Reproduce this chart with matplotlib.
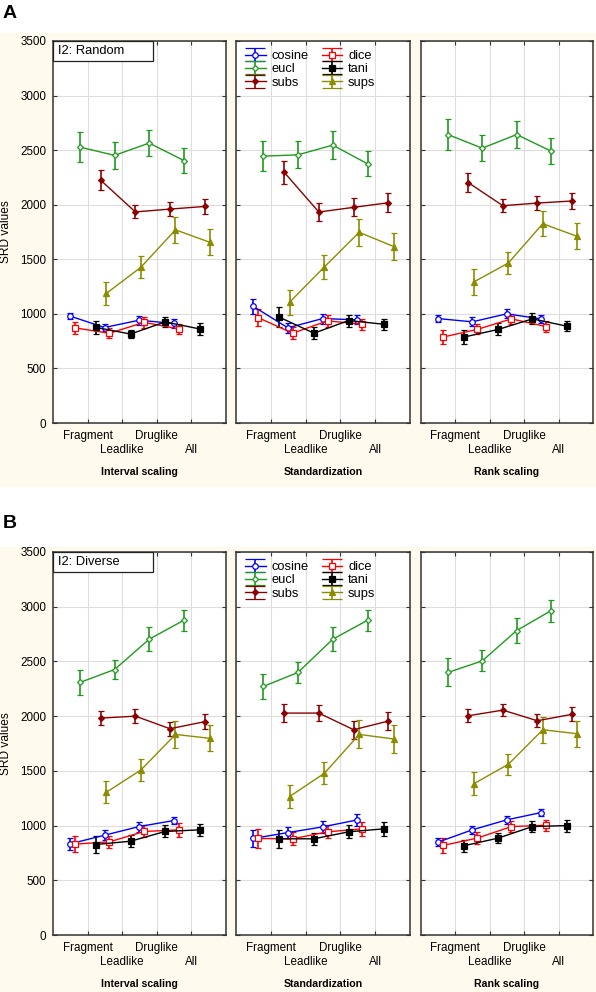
import numpy as np
import matplotlib.pyplot as plt
from matplotlib.patches import Rectangle
from matplotlib.legend_handler import HandlerErrorbar

plt.rcParams['font.family'] = ['Liberation Sans', 'DejaVu Sans']

categories = ['Fragment', 'Leadlike', 'Druglike', 'All']
methods = ['Interval scaling', 'Standardization', 'Rank scaling']
series = ['cosine', 'dice', 'eucl', 'tani', 'subs', 'sups']
yticks = [0, 500, 1000, 1500, 2000, 2500, 3000, 3500]

# I2: Random  (rows: cosine, dice, eucl, tani, subs, sups; cols: categories)
rand_interval = [[980, 875, 942, 912],
                 [872, 822, 922, 863],
                 [2528, 2452, 2565, 2405],
                 [876, 815, 926, 862],
                 [2224, 1934, 1960, 1984],
                 [1187, 1427, 1770, 1655]]
rand_interval_err = [[30, 28, 41, 37],
                     [56, 46, 53, 46],
                     [135, 122, 122, 114],
                     [61, 38, 49, 55],
                     [90, 60, 64, 66],
                     [108, 100, 117, 118]]

rand_std = [[1070, 872, 957, 945],
            [966, 823, 936, 905],
            [2445, 2457, 2546, 2375],
            [970, 823, 939, 905],
            [2299, 1933, 1976, 2018],
            [1107, 1430, 1747, 1616]]
rand_std_err = [[67, 46, 46, 40],
                [76, 55, 55, 50],
                [137, 125, 126, 114],
                [90, 55, 55, 50],
                [105, 79, 81, 87],
                [114, 107, 123, 126]]

rand_rank = [[957, 927, 1000, 954],
             [787, 857, 954, 884],
             [2643, 2518, 2643, 2491],
             [787, 857, 954, 887],
             [2201, 1991, 2015, 2034],
             [1293, 1466, 1826, 1710]]
rand_rank_err = [[30, 40, 40, 35],
                 [67, 46, 46, 46],
                 [143, 122, 124, 117],
                 [67, 55, 50, 45],
                 [85, 58, 64, 69],
                 [116, 102, 116, 119]]

# I2: Diverse
div_interval = [[833, 912, 991, 1046],
                [830, 851, 946, 961],
                [2308, 2426, 2703, 2876],
                [827, 857, 946, 961],
                [1982, 2000, 1885, 1949],
                [1304, 1508, 1833, 1797]]
div_interval_err = [[52, 43, 46, 30],
                    [76, 55, 55, 61],
                    [116, 90, 108, 96],
                    [76, 55, 55, 55],
                    [67, 61, 64, 68],
                    [102, 99, 120, 120]]

div_std = [[882, 936, 988, 1052],
           [882, 879, 943, 970],
           [2271, 2399, 2703, 2876],
           [879, 879, 943, 970],
           [2028, 2028, 1876, 1955],
           [1265, 1478, 1833, 1791]]
div_std_err = [[76, 52, 52, 55],
               [91, 58, 61, 61],
               [116, 94, 112, 96],
               [82, 52, 61, 61],
               [85, 71, 84, 84],
               [106, 100, 128, 129]]

div_rank = [[848, 961, 1052, 1119],
            [818, 885, 991, 1003],
            [2399, 2505, 2782, 2964],
            [815, 885, 991, 1000],
            [2004, 2055, 1958, 2016],
            [1383, 1560, 1876, 1839]]
div_rank_err = [[36, 36, 36, 36],
                [67, 52, 52, 52],
                [128, 97, 111, 100],
                [55, 46, 52, 55],
                [58, 56, 59, 64],
                [105, 97, 117, 120]]

# style
colors = ['#0000ff', '#ff0000', '#1f9a1f', '#000000', '#8b0000', '#8c8c00']
markers = ['o', 's', 'D', 's', 'D', '^']
msizes = [4, 4, 3, 4.5, 3, 4.5]
mfcs = ['white', 'white', 'white', '#000000', '#8b0000', '#8c8c00']
offsets = [-0.51, -0.37, -0.22, 0.24, 0.38, 0.54]
cream = '#fffaee'


class WideCapHandler(HandlerErrorbar):
    # caps in the legend run across the whole handle, like the original
    def create_artists(self, legend, orig_handle, xdescent, ydescent,
                       width, height, fontsize, trans):
        artists = super().create_artists(legend, orig_handle, xdescent, ydescent,
                                         width, height, fontsize, trans)
        for a in artists:
            if hasattr(a, 'get_marker') and a.get_marker() == '_':
                a.set_markersize(width)
        return artists


W, H = 596, 992
fig = plt.figure(figsize=(W / 100, H / 100), dpi=100)
fig.patch.set_facecolor('white')

fig.patches.append(Rectangle((0, 1 - 486 / H), 1, (486 - 33) / H,
                             transform=fig.transFigure, color=cream, zorder=-10))
fig.patches.append(Rectangle((0, 0), 1, (H - 547) / H,
                             transform=fig.transFigure, color=cream, zorder=-10))
fig.text(3 / W, 1 - 5 / H, 'A', fontsize=14, fontweight='bold', va='top')
fig.text(3 / W, 1 - 515 / H, 'B', fontsize=14, fontweight='bold', va='top')

cols_px = [(53, 226), (236, 410), (421, 593)]
rows_px = [(41, 423), (552, 935)]
row_data = [[(rand_interval, rand_interval_err), (rand_std, rand_std_err), (rand_rank, rand_rank_err)],
            [(div_interval, div_interval_err), (div_std, div_std_err), (div_rank, div_rank_err)]]
row_tags = ['I2: Random', 'I2: Diverse']

x = np.arange(1, len(categories) + 1)

for r, (top, bot) in enumerate(rows_px):
    for c, (left, right) in enumerate(cols_px):
        ax = fig.add_axes([left / W, 1 - bot / H, (right - left) / W, (bot - top) / H])
        means, errs = row_data[r][c]
        handles = []
        for k, name in enumerate(series):
            h = ax.errorbar(x + offsets[k], means[k], yerr=errs[k], color=colors[k],
                            marker=markers[k], ms=msizes[k], mfc=mfcs[k], mec=colors[k],
                            mew=0.9, lw=1.0, elinewidth=1.2, capsize=2, capthick=1.2,
                            label=name)
            handles.append(h)
        ax.set_xlim(0, 5)
        ax.set_ylim(0, 3500)
        ax.set_yticks(yticks)
        ax.set_xticks(x)
        # staggered category labels: odd ones on the first row, even ones below
        ax.set_xticklabels([lab if i % 2 == 0 else '' for i, lab in enumerate(categories)],
                           fontsize=8.4)
        for i, lab in enumerate(categories):
            if i % 2 == 1:
                ax.annotate(lab, xy=(x[i], 0), xycoords=('data', 'axes fraction'),
                            xytext=(0, -19.3), textcoords='offset points',
                            ha='center', va='center', fontsize=8.4)
        ax.grid(True, color='#dddddd', lw=0.8)
        ax.set_axisbelow(True)
        ax.tick_params(direction='in', length=3, width=0.8, top=True, right=True,
                       colors='#333333', labelcolor='black', labelsize=8.4)
        ax.tick_params(axis='x', pad=5)
        ax.tick_params(axis='y', pad=5)
        for sp in ax.spines.values():
            sp.set_color('#333333')
            sp.set_linewidth(1.1)
        if c == 0:
            ax.set_ylabel('SRD values', fontsize=8.6, labelpad=6)
            ax.add_patch(Rectangle((0, 1 - 20 / (bot - top)), 100 / (right - left), 20 / (bot - top),
                                   transform=ax.transAxes, facecolor='white',
                                   edgecolor='#222222', lw=0.9, zorder=5))
            ax.text(5 / (right - left), 1 - 10 / (bot - top), row_tags[r],
                    transform=ax.transAxes, fontsize=9.3, va='center', ha='left', zorder=6)
        else:
            ax.set_yticklabels([])
        if c == 1:
            order = [0, 2, 4, 1, 3, 5]
            ax.legend([handles[i] for i in order], [series[i] for i in order], ncol=2,
                      loc='upper left', bbox_to_anchor=(0.0, 1.0), frameon=False,
                      fontsize=9.3, handlelength=1.6, handletextpad=0.45,
                      columnspacing=1.0, labelspacing=0.1, borderaxespad=0.3,
                      handler_map={type(handles[0]): WideCapHandler()})
        ax.annotate(methods[c], xy=(0.5, 0), xycoords='axes fraction',
                    xytext=(0, -35.5), textcoords='offset points',
                    ha='center', va='center', fontsize=7.6, fontweight='bold')

fig.savefig('out.png', dpi=100)
